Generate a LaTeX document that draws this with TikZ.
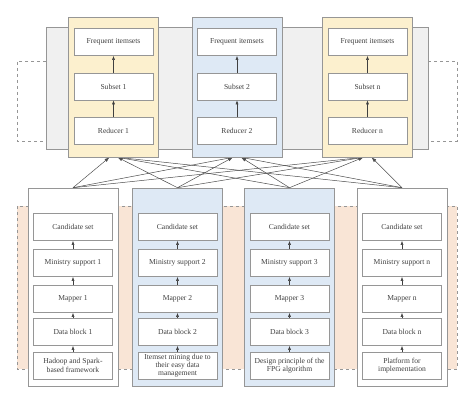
\documentclass[tikz,border=0pt]{standalone}
\usepackage{fontspec}
\setmainfont{Liberation Serif}
\usepackage{tikz}
\usetikzlibrary{arrows.meta}
\pgfdeclarelayer{bg}
\pgfdeclarelayer{back}
\pgfsetlayers{back,bg,main}
\definecolor{framegray}{RGB}{150,150,150}
\definecolor{panelgray}{RGB}{240,240,240}
\definecolor{paleyellow}{RGB}{252,240,206}
\definecolor{paleblue}{RGB}{222,233,245}
\definecolor{salmon}{RGB}{249,229,214}
\tikzset{
  every node/.style={font=\fontsize{7.6}{8.4}\selectfont, text=black!75},
  stepbox/.style={draw=framegray, fill=white, line width=0.6pt, minimum width=79pt, minimum height=27pt, inner sep=1pt, align=center},
  column/.style={draw=framegray, line width=0.6pt, minimum width=90pt},
  up/.style={-{Latex[length=4pt,width=3pt]}, black!75, line width=0.5pt},
  cross/.style={-{Latex[length=5pt,width=3.5pt]}, black!70, line width=0.5pt},
}
\begin{document}
\begin{tikzpicture}[x=1pt,y=-1pt]
        \useasboundingbox (0,0) rectangle (474,403);
        % reduce side
        \node (t1) [column, fill=paleyellow, minimum height=140pt] at (113.5, 87) {};
        \node (t2) [column, fill=paleblue, minimum height=140pt] at (237, 87) {};
        \node (t3) [column, fill=paleyellow, minimum height=140pt] at (367.5, 87) {};
        \node (f1) [stepbox] at (113.5, 42) {Frequent itemsets};
        \node (s1) [stepbox] at (113.5, 86.5) {Subset 1};
        \node (r1) [stepbox] at (113.5, 130.5) {Reducer 1};
        \node (f2) [stepbox] at (237, 42) {Frequent itemsets};
        \node (s2) [stepbox] at (237, 86.5) {Subset 2};
        \node (r2) [stepbox] at (237, 130.5) {Reducer 2};
        \node (f3) [stepbox] at (367.5, 42) {Frequent itemsets};
        \node (s3) [stepbox] at (367.5, 86.5) {Subset n};
        \node (r3) [stepbox] at (367.5, 130.5) {Reducer n};
        % map side
        \node (b1) [column, fill=white, minimum height=198pt] at (73, 287) {};
        \node (b2) [column, fill=paleblue, minimum height=198pt] at (177.5, 287) {};
        \node (b3) [column, fill=paleblue, minimum height=198pt] at (289.5, 287) {};
        \node (b4) [column, fill=white, minimum height=198pt] at (402, 287) {};
        \node (k1) [stepbox] at (73, 227) {Candidate set};
        \node (m1) [stepbox] at (73, 263) {Ministry support 1};
        \node (p1) [stepbox] at (73, 299) {Mapper 1};
        \node (d1) [stepbox] at (73, 332) {Data block 1};
        \node (h1) [stepbox] at (73, 365.5) {Hadoop and Spark-\\based framework};
        \node (k2) [stepbox] at (177.5, 227) {Candidate set};
        \node (m2) [stepbox] at (177.5, 263) {Ministry support 2};
        \node (p2) [stepbox] at (177.5, 299) {Mapper 2};
        \node (d2) [stepbox] at (177.5, 332) {Data block 2};
        \node (h2) [stepbox, inner sep=0pt, font=\fontsize{7.6}{8}\selectfont] at (177.5, 365.5) {Itemset mining due to\\their easy data\\management};
        \node (k3) [stepbox] at (289.5, 227) {Candidate set};
        \node (m3) [stepbox] at (289.5, 263) {Ministry support 3};
        \node (p3) [stepbox] at (289.5, 299) {Mapper 3};
        \node (d3) [stepbox] at (289.5, 332) {Data block 3};
        \node (h3) [stepbox] at (289.5, 365.5) {Design principle of the\\FPG algorithm};
        \node (k4) [stepbox] at (402, 227) {Candidate set};
        \node (m4) [stepbox] at (402, 263) {Ministry support n};
        \node (p4) [stepbox] at (402, 299) {Mapper n};
        \node (d4) [stepbox] at (402, 332) {Data block n};
        \node (h4) [stepbox] at (402, 365.5) {Platform for\\implementation};
        \begin{pgfonlayer}{back}
                \fill [panelgray, draw=framegray, line width=0.6pt] (46,27) rectangle (428,149);
                \draw [framegray, dashed, line width=0.6pt] (46,61) -- (17,61) -- (17,141) -- (46,141);
                \draw [framegray, dashed, line width=0.6pt] (428,61) -- (457,61) -- (457,141) -- (428,141);
                \fill [salmon] (17,206) rectangle (457,369);
                \draw [framegray, dashed, line width=0.6pt] (17,206) rectangle (457,369);
        \end{pgfonlayer}
        \begin{pgfonlayer}{bg}
                \draw (b1.north) edge [cross] ([xshift=-4pt]t1.south);
                \draw (b2.north) edge [cross] ([xshift=4pt]t1.south);
                \draw (b3.north) edge [cross] ([xshift=4pt]t1.south);
                \draw (b4.north) edge [cross] ([xshift=4pt]t1.south);
                \draw (b1.north) edge [cross] ([xshift=-4pt]t2.south);
                \draw (b2.north) edge [cross] ([xshift=-4pt]t2.south);
                \draw (b3.north) edge [cross] ([xshift=4pt]t2.south);
                \draw (b4.north) edge [cross] ([xshift=4pt]t2.south);
                \draw (b1.north) edge [cross] ([xshift=-4pt]t3.south);
                \draw (b2.north) edge [cross] ([xshift=-4pt]t3.south);
                \draw (b3.north) edge [cross] ([xshift=-4pt]t3.south);
                \draw (b4.north) edge [cross] ([xshift=4pt]t3.south);
        \end{pgfonlayer}
        \draw (r1) edge [up] (s1);
        \draw (s1) edge [up] (f1);
        \draw (r2) edge [up] (s2);
        \draw (s2) edge [up] (f2);
        \draw (r3) edge [up] (s3);
        \draw (s3) edge [up] (f3);
        \draw (h1) edge [up] (d1);
        \draw (d1) edge [up] (p1);
        \draw (p1) edge [up] (m1);
        \draw (m1) edge [up] (k1);
        \draw (h2) edge [up] (d2);
        \draw (d2) edge [up] (p2);
        \draw (p2) edge [up] (m2);
        \draw (m2) edge [up] (k2);
        \draw (h3) edge [up] (d3);
        \draw (d3) edge [up] (p3);
        \draw (p3) edge [up] (m3);
        \draw (m3) edge [up] (k3);
        \draw (h4) edge [up] (d4);
        \draw (d4) edge [up] (p4);
        \draw (p4) edge [up] (m4);
        \draw (m4) edge [up] (k4);
\end{tikzpicture}
\end{document}
